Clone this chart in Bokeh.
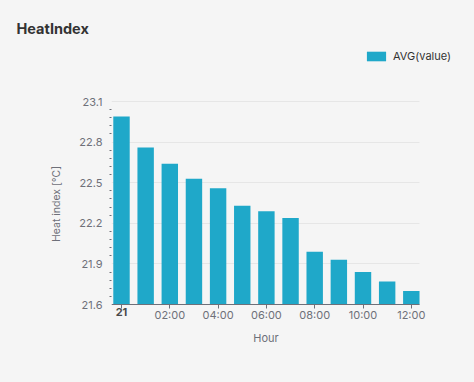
from bokeh.plotting import figure
from bokeh.models import (ColumnDataSource, FixedTicker, Legend, LegendItem,
                          LinearAxis, Range1d, Grid, Label)
from bokeh.embed import file_html
from bokeh.resources import INLINE

# ---- data ----
hours = [0, 1, 2, 3, 4, 5, 6, 7, 8, 9, 10, 11, 12]
avg_value = [22.99, 22.76, 22.64, 22.53, 22.46, 22.33, 22.29, 22.24,
             21.99, 21.93, 21.84, 21.77, 21.70]
x_tick_hours = [0, 2, 4, 6, 8, 10, 12]
x_tick_labels = ["21", "02:00", "04:00", "06:00", "08:00", "10:00", "12:00"]
y_ticks = [21.6, 21.9, 22.2, 22.5, 22.8, 23.1]
series_name = "AVG(value)"
title_text = "HeatIndex"
x_title = "Hour"
y_title = "Heat index [°C]"

BG = "#f5f5f5"
BAR = "#1FA8C9"
GREY = "#6e7079"
FONT = "Inter"
FS = "11px"

# axis extents (hours) and extra view room used for legend / labels
X_LO, X_HI = -0.414, 12.34
X_VIEW_HI = 13.83
Y_VIEW_LO, Y_VIEW_HI = 21.1714, 23.514

source = ColumnDataSource(dict(hour=hours, value=avg_value))

p = figure(width=458, height=366, output_backend="svg", toolbar_location=None,
           x_range=Range1d(X_LO, X_VIEW_HI), y_range=Range1d(Y_VIEW_LO, Y_VIEW_HI),
           min_border_left=111, min_border_right=3, min_border_top=45,
           min_border_bottom=4)
p.background_fill_color = BG
p.border_fill_color = BG
p.outline_line_color = None

# title
p.title.text = title_text
p.title.align = "left"
p.title.offset = -95
p.title.standoff = 18
p.title.text_font = FONT
p.title.text_font_size = "14.5px"
p.title.text_font_style = "bold"
p.title.text_color = "#333333"

r = p.vbar(x="hour", top="value", bottom=y_ticks[0], width=0.68, source=source,
           fill_color=BAR, line_color=None)

# x axis (drawn at the bottom of the value range)
p.xaxis.fixed_location = y_ticks[0]
p.xaxis.bounds = (X_LO, X_HI)
p.xaxis.ticker = FixedTicker(ticks=x_tick_hours)
p.xaxis.major_label_overrides = {h: (lab if i > 0 else "") for i, (h, lab) in
                                 enumerate(zip(x_tick_hours, x_tick_labels))}
p.xaxis.axis_line_color = GREY
p.xaxis.major_tick_line_color = GREY
p.xaxis.major_tick_out = 4
p.xaxis.major_tick_in = 0
p.xaxis.minor_tick_line_color = None
p.xaxis.major_label_text_color = GREY
p.xaxis.major_label_text_font = FONT
p.xaxis.major_label_text_font_size = FS
p.xaxis.major_label_standoff = -1

# bold day label on a second axis drawn at the same line
day_axis = LinearAxis(ticker=FixedTicker(ticks=x_tick_hours[:1]),
                      major_label_overrides={x_tick_hours[0]: x_tick_labels[0]},
                      fixed_location=y_ticks[0], axis_line_color=None,
                      major_tick_line_color=None, minor_tick_line_color=None,
                      major_tick_out=4, major_tick_in=0,
                      major_label_standoff=-1, major_label_text_font=FONT,
                      major_label_text_font_size=FS,
                      major_label_text_font_style="bold",
                      major_label_text_color="#4a4a4a")
p.add_layout(day_axis, "below")

# x axis title
p.add_layout(Label(x=154.5, y=25, x_units="screen", y_units="screen", text=x_title,
                   text_align="center", text_baseline="middle", text_font=FONT,
                   text_font_size=FS, text_color=GREY))

# y axis
minor = [round(y_ticks[0] + 0.06 * k, 2) for k in range(1, 25) if k % 5 != 0]
p.yaxis.bounds = (y_ticks[0], y_ticks[-1])
p.yaxis.ticker = FixedTicker(ticks=y_ticks, minor_ticks=minor)
p.yaxis.axis_line_color = None
p.yaxis.major_tick_line_color = None
p.yaxis.major_tick_out = 0
p.yaxis.major_tick_in = 0
p.yaxis.minor_tick_line_color = GREY
p.yaxis.minor_tick_out = 2
p.yaxis.minor_tick_in = 0
p.yaxis.major_label_text_color = GREY
p.yaxis.major_label_text_font = FONT
p.yaxis.major_label_text_font_size = FS
p.yaxis.major_label_standoff = 7
p.yaxis.axis_label = y_title
p.yaxis.axis_label_text_font = FONT
p.yaxis.axis_label_text_font_size = "10.5px"
p.yaxis.axis_label_text_font_style = "normal"
p.yaxis.axis_label_text_color = GREY
p.yaxis.axis_label_standoff = 13

p.xgrid.grid_line_color = None
if "cross_bounds" in Grid.properties():
    p.ygrid.cross_bounds = (X_LO, X_HI)
    p.ygrid.grid_line_color = "#e6e6e6"
    p.ygrid.grid_line_width = 1
else:
    p.ygrid.grid_line_color = None
    p.segment(x0=[X_LO] * len(y_ticks), x1=[X_HI] * len(y_ticks), y0=y_ticks,
              y1=y_ticks, line_color="#e6e6e6", line_width=1, level="underlay")

legend = Legend(items=[LegendItem(label=series_name, renderers=[r])],
                location=(253, 299), glyph_width=24, glyph_height=12,
                label_text_font=FONT, label_text_font_size=FS,
                label_text_color="#333333", label_standoff=5, padding=0, margin=0,
                border_line_color=None, background_fill_alpha=0)
p.add_layout(legend)

html = file_html(p, INLINE)
html = html.replace("<head>", "<head><style>html,body{background:%s;}</style>" % BG, 1)
open("out.html", "w").write(html)
